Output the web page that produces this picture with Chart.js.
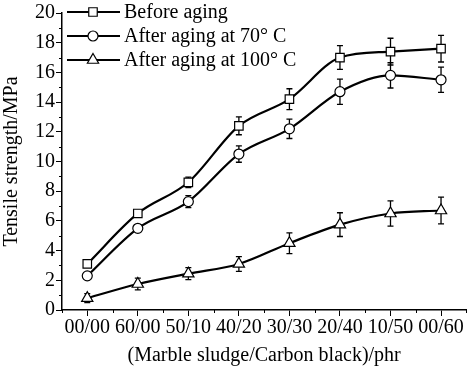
<!DOCTYPE html>
<html>
<head>
<meta charset="utf-8">
<script src="https://cdn.jsdelivr.net/npm/chart.js@4.4.1/dist/chart.umd.min.js"></script>
<style>
  html, body { margin: 0; padding: 0; background: #fff; }
</style>
</head>
<body>
<canvas id="chart" width="474" height="371"></canvas>
<script>
const categories = ["00/00", "60/00", "50/10", "40/20", "30/30", "20/40", "10/50", "00/60"];
const seriesNames = ["Before aging", "After aging at 70\u00B0 C", "After aging at 100\u00B0 C"];

const beforeAging = [3.1, 6.5, 8.6, 12.4, 14.2, 17.0, 17.4, 17.6];
const beforeAgingErr = [0.2, 0.2, 0.35, 0.6, 0.7, 0.8, 0.9, 0.9];
const aging70 = [2.3, 5.5, 7.3, 10.5, 12.2, 14.7, 15.8, 15.5];
const aging70Err = [0.15, 0.2, 0.4, 0.55, 0.65, 0.85, 0.85, 0.85];
const aging100 = [0.8, 1.75, 2.45, 3.1, 4.5, 5.75, 6.5, 6.7];
const aging100Err = [0.3, 0.4, 0.4, 0.5, 0.7, 0.8, 0.85, 0.9];

const yTicks = [0, 2, 4, 6, 8, 10, 12, 14, 16, 18, 20];

const FONT = "'Liberation Serif', 'Times New Roman', serif";
const markers = ["rect", "circle", "triangle"];
const markerSizes = [6, 5, 6.5];
const errors = [beforeAgingErr, aging70Err, aging100Err];

function makeDataset(i, values) {
  return {
    label: seriesNames[i],
    data: values,
    borderColor: "#000",
    borderWidth: 2.2,
    backgroundColor: "#fff",
    pointStyle: markers[i],
    pointRadius: markerSizes[i],
    pointBorderWidth: 1.2,
    pointBackgroundColor: "#fff",
    pointBorderColor: "#000",
    cubicInterpolationMode: "monotone"
  };
}

function drawMarker(ctx, style, x, y, r) {
  ctx.beginPath();
  if (style === "rect") {
    const s = r / Math.SQRT2;
    ctx.rect(x - s, y - s, 2 * s, 2 * s);
  } else if (style === "circle") {
    ctx.arc(x, y, r, 0, Math.PI * 2);
  } else {
    const h = r * 1.5, w = r * Math.sqrt(3);
    ctx.moveTo(x, y - r);
    ctx.lineTo(x + w / 2, y - r + h);
    ctx.lineTo(x - w / 2, y - r + h);
    ctx.closePath();
  }
  ctx.fillStyle = "#fff";
  ctx.fill();
  ctx.lineWidth = 1.2;
  ctx.strokeStyle = "#000";
  ctx.stroke();
}

// error bars, minor ticks and the inset legend
const extras = {
  id: "extras",
  beforeDatasetsDraw(chart) {
    const ctx = chart.ctx;
    const y = chart.scales.y;
    ctx.save();
    ctx.strokeStyle = "#000";
    ctx.lineWidth = 1.3;
    chart.data.datasets.forEach((ds, i) => {
      const meta = chart.getDatasetMeta(i);
      ds.data.forEach((v, j) => {
        const px = meta.data[j].x;
        const top = y.getPixelForValue(v + errors[i][j]);
        const bot = y.getPixelForValue(v - errors[i][j]);
        ctx.beginPath();
        ctx.moveTo(px, top); ctx.lineTo(px, bot);
        ctx.moveTo(px - 3, top); ctx.lineTo(px + 3, top);
        ctx.moveTo(px - 3, bot); ctx.lineTo(px + 3, bot);
        ctx.stroke();
      });
    });
    ctx.restore();
  },
  afterDraw(chart) {
    const ctx = chart.ctx;
    const x = chart.scales.x, y = chart.scales.y;
    const area = chart.chartArea;
    ctx.save();
    ctx.strokeStyle = "#000";
    ctx.lineWidth = 1;
    ctx.beginPath();
    for (let v = 1; v < 20; v += 2) {
      const py = Math.round(y.getPixelForValue(v)) + 0.5;
      ctx.moveTo(area.left - 3, py); ctx.lineTo(area.left, py);
    }
    const half = (x.getPixelForValue(1) - x.getPixelForValue(0)) / 2;
    for (let i = 0; i <= categories.length; i++) {
      const px = Math.round(x.getPixelForValue(i) - half) + 0.5;
      ctx.moveTo(px, area.bottom); ctx.lineTo(px, area.bottom + 3);
    }
    ctx.stroke();

    ctx.font = "20px " + FONT;
    ctx.textBaseline = "middle";
    ctx.textAlign = "left";
    chart.data.datasets.forEach((ds, i) => {
      const ly = 12 + i * 24;
      ctx.beginPath();
      ctx.lineWidth = 2;
      ctx.moveTo(67, ly); ctx.lineTo(120, ly);
      ctx.stroke();
      drawMarker(ctx, markers[i], 93, ly, markerSizes[i]);
      ctx.fillStyle = "#000";
      ctx.fillText(ds.label, 124, ly + 1);
    });
    ctx.restore();
  }
};

new Chart(document.getElementById("chart"), {
  type: "line",
  data: {
    labels: categories,
    datasets: [
      makeDataset(0, beforeAging),
      makeDataset(1, aging70),
      makeDataset(2, aging100)
    ]
  },
  options: {
    responsive: false,
    animation: false,
    layout: { padding: { top: 10, right: 3, left: 0, bottom: 0 } },
    plugins: {
      legend: { display: false },
      tooltip: { enabled: false }
    },
    scales: {
      x: {
        offset: true,
        grid: { offset: false, drawOnChartArea: false, tickLength: 6, color: "#000", tickWidth: 1 },
        border: { color: "#000", width: 1.5 },
        ticks: { color: "#000", font: { family: FONT, size: 20 }, padding: 0, maxRotation: 0, autoSkip: false },
        title: { display: true, text: "(Marble sludge/Carbon black)/phr", color: "#000",
                 font: { family: FONT, size: 20 }, padding: { top: 4, bottom: 3 } },
        afterFit(s) { s.height = 61; }
      },
      y: {
        min: 0,
        max: 20,
        afterBuildTicks(s) { s.ticks = yTicks.map(v => ({ value: v })); },
        grid: { drawOnChartArea: false, tickLength: 6, color: "#000", tickWidth: 1 },
        border: { color: "#000", width: 1.5 },
        ticks: { color: "#000", font: { family: FONT, size: 20 }, padding: 1 },
        title: { display: true, text: "Tensile strength/MPa", color: "#000",
                 font: { family: FONT, size: 20 }, padding: { top: 0, bottom: 2 } },
        afterFit(s) { s.width = 62; }
      }
    }
  },
  plugins: [extras]
});
</script>
</body>
</html>
